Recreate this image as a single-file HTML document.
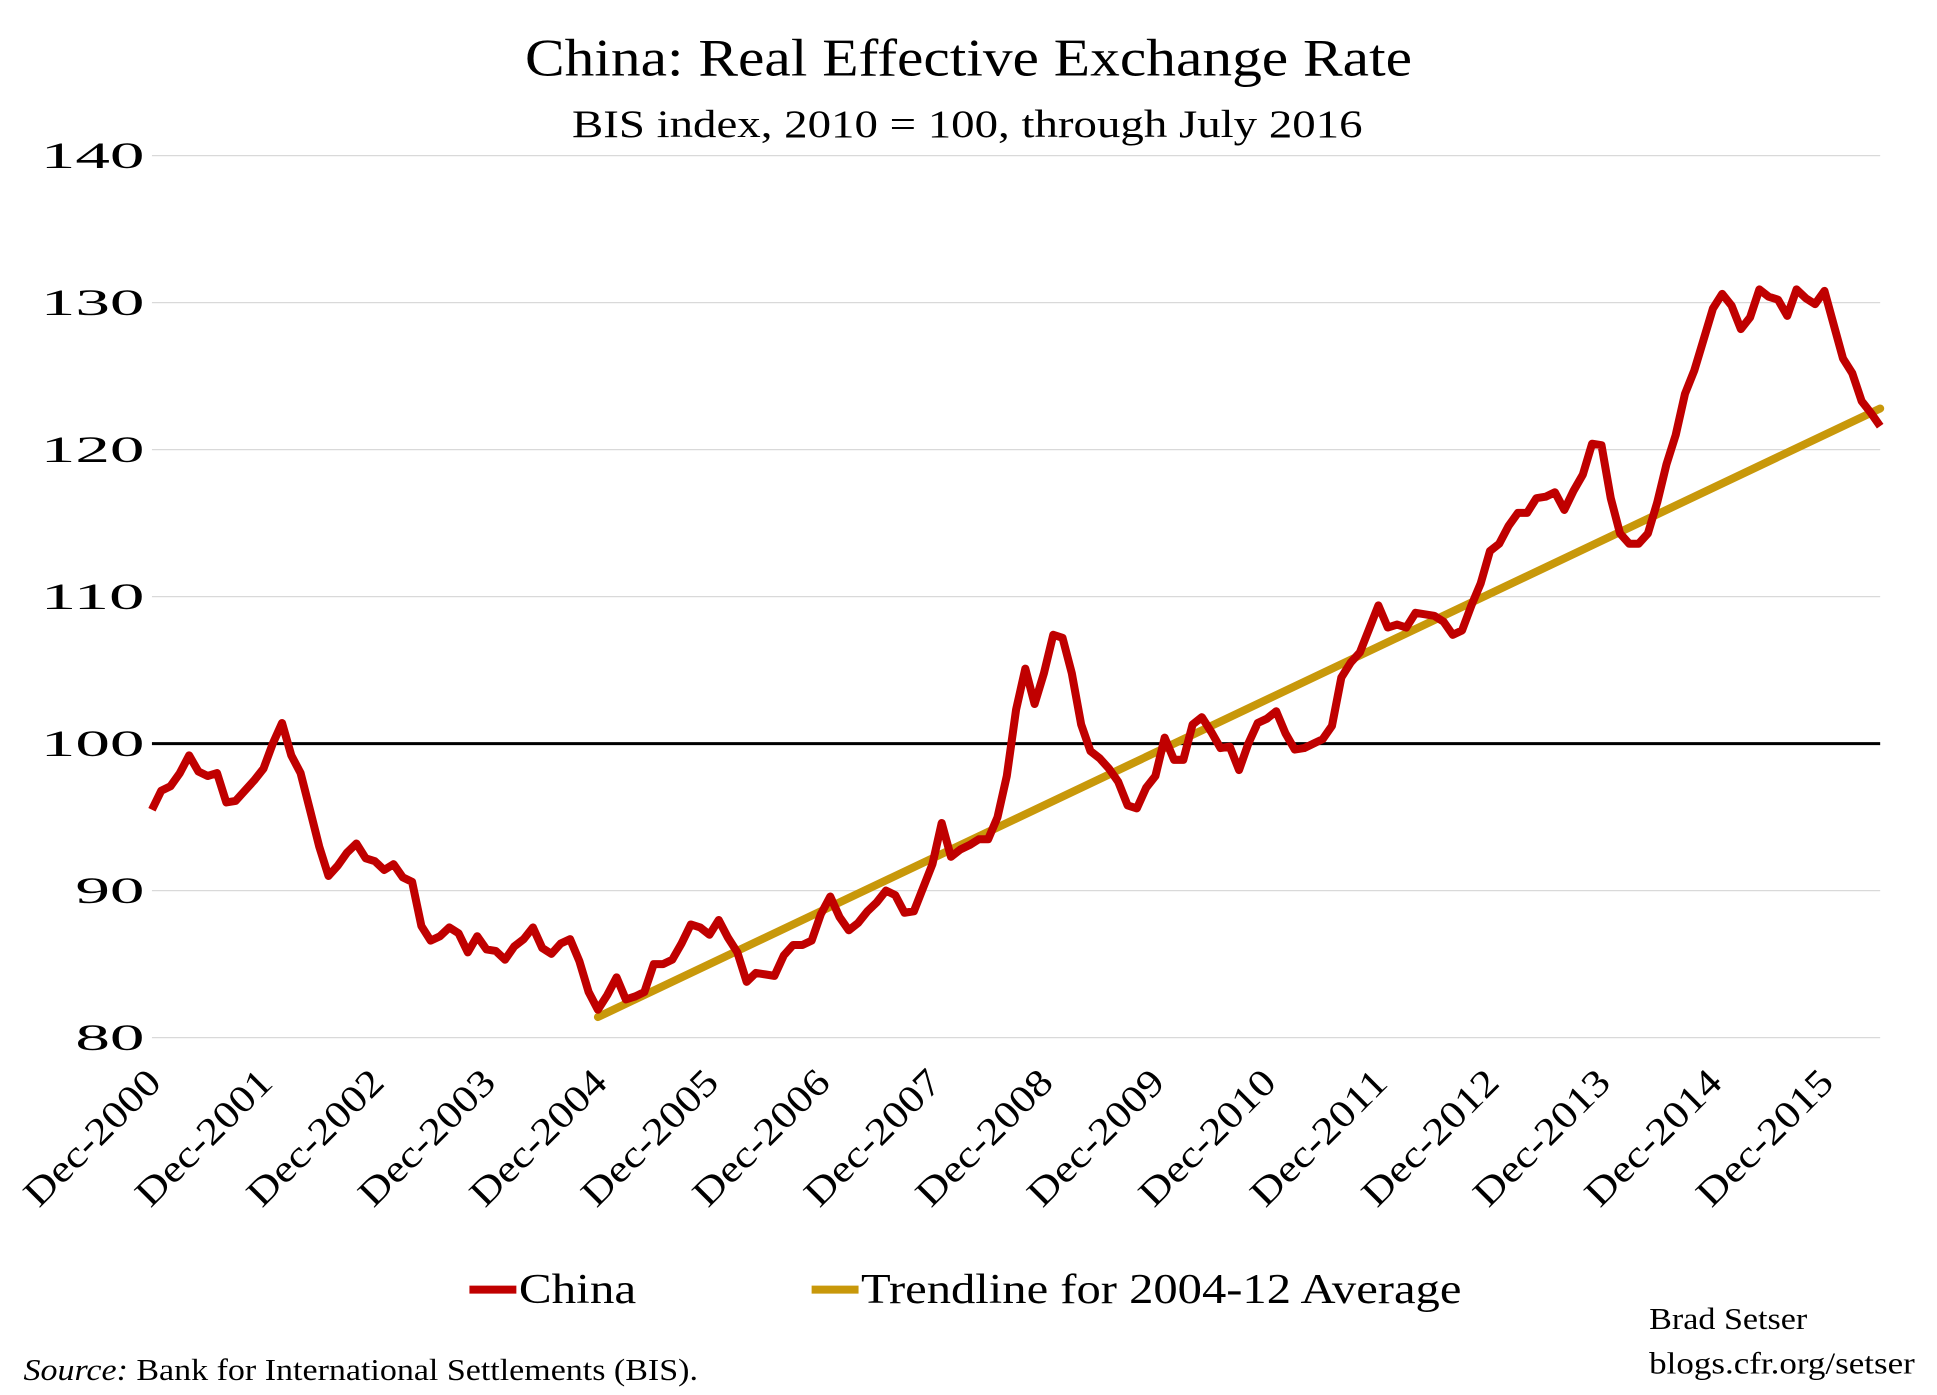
<!DOCTYPE html>
<html><head><meta charset="utf-8"><style>
html,body{margin:0;padding:0;background:#fff;}
svg{display:block;font-family:"Liberation Serif",serif;}
</style></head><body>
<svg id="s" width="1937" height="1395" viewBox="0 0 1568 1129.3" preserveAspectRatio="none" xmlns="http://www.w3.org/2000/svg">
<text x="425" y="61" font-size="43" textLength="718" lengthAdjust="spacingAndGlyphs">China: Real Effective Exchange Rate</text>
<text x="463" y="111" font-size="32" textLength="640" lengthAdjust="spacingAndGlyphs">BIS index, 2010 = 100, through July 2016</text>
<g id="grid"></g>
<g id="xl"></g>
<polyline id="trend" fill="none" stroke="#c8980a" stroke-width="6.5" stroke-linecap="round" points=""/>
<polyline id="china" fill="none" stroke="#c00000" stroke-width="6.5" stroke-linejoin="round" points=""/>
<line x1="380" y1="1044" x2="418" y2="1044" stroke="#c00000" stroke-width="6.5"/>
<text x="420" y="1055" font-size="34" textLength="95" lengthAdjust="spacingAndGlyphs">China</text>
<line x1="657" y1="1044" x2="695" y2="1044" stroke="#c8980a" stroke-width="6.5"/>
<text x="697" y="1055" font-size="34" textLength="486" lengthAdjust="spacingAndGlyphs">Trendline for 2004-12 Average</text>
<text x="19" y="1117" font-size="25" textLength="546" lengthAdjust="spacingAndGlyphs"><tspan font-style="italic">Source:</tspan> Bank for International Settlements (BIS).</text>
<text x="1335" y="1076" font-size="25" textLength="128" lengthAdjust="spacingAndGlyphs">Brad Setser</text>
<text x="1335" y="1112" font-size="25" textLength="215" lengthAdjust="spacingAndGlyphs">blogs.cfr.org/setser</text>
</svg>
<script>
var d=[95.5,96.8,97.1,98,99.2,98.1,97.8,98,96,96.1,96.8,97.5,98.3,100,101.4,99.2,98,95.5,93,91,91.7,92.6,93.2,92.2,92,91.4,91.8,90.9,90.6,87.6,86.6,86.9,87.5,87.1,85.8,86.9,86,85.9,85.3,86.2,86.7,87.5,86.1,85.7,86.4,86.7,85.2,83.1,81.9,82.9,84.1,82.6,82.8,83.1,85,85,85.3,86.4,87.7,87.5,87,88,86.8,85.8,83.8,84.4,84.3,84.2,85.6,86.3,86.3,86.6,88.4,89.6,88.2,87.3,87.8,88.6,89.2,90,89.7,88.5,88.6,90.2,91.8,94.6,92.3,92.8,93.1,93.5,93.5,95,97.8,102.3,105.1,102.7,104.8,107.4,107.2,104.8,101.3,99.5,99,98.3,97.4,95.8,95.6,97,97.8,100.4,98.9,98.9,101.3,101.8,100.8,99.7,99.8,98.2,100,101.4,101.7,102.2,100.7,99.6,99.7,100,100.3,101.2,104.5,105.5,106.2,107.8,109.4,107.9,108.1,107.9,108.9,108.8,108.7,108.3,107.4,107.7,109.4,110.9,113.1,113.6,114.8,115.7,115.7,116.7,116.8,117.1,115.9,117.2,118.3,120.4,120.3,116.7,114.3,113.6,113.6,114.3,116.4,119,121,123.8,125.4,127.5,129.6,130.6,129.8,128.2,129,130.9,130.4,130.2,129.1,130.9,130.3,129.9,130.8,128.5,126.2,125.2,123.3,122.5,121.6];
function X(i){return 123+i*1399/186;}
function Y(v){return 840-(v-80)*11.9;}
document.getElementById('china').setAttribute('points',d.map(function(v,i){return X(i).toFixed(1)+','+Y(v).toFixed(1)}).join(' '));
document.getElementById('trend').setAttribute('points',X(48)+','+Y(81.4)+' '+X(186)+','+Y(122.8));
var g=document.getElementById('grid'),h='';
for(var v=80;v<=140;v+=10){
 var y=Y(v);
 if(v==100)h+='<line x1="123" x2="1522" y1="'+y+'" y2="'+y+'" stroke="#000" stroke-width="2.5"/>';
 else h+='<line x1="123" x2="1522" y1="'+y+'" y2="'+y+'" stroke="#d9d9d9" stroke-width="1"/>';
 var w=(v>=100?84:56);
 h+='<text x="'+(117-w)+'" y="'+(y+10)+'" font-size="30" textLength="'+w+'" lengthAdjust="spacingAndGlyphs" font-family="Liberation Serif,serif">'+v+'</text>';
}
g.innerHTML=h;
var xl='';
for(var k=0;k<=15;k++){
 var x=X(k*12)+9, y=878;
 xl+='<text transform="translate('+x+','+y+') rotate(-45)" font-size="31" text-anchor="end" textLength="142" lengthAdjust="spacingAndGlyphs" font-family="Liberation Serif,serif">Dec-'+(2000+k)+'</text>';
}
document.getElementById('xl').innerHTML=xl;
</script>
</body></html>
